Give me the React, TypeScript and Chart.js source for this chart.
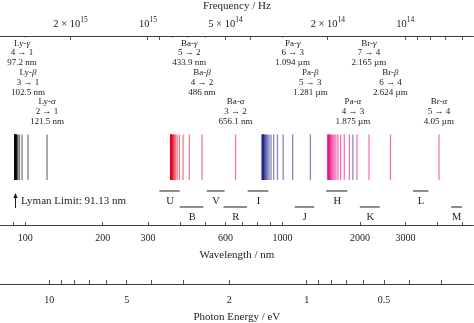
import React, { useEffect, useRef } from 'react';
import { Chart, registerables } from 'chart.js';

Chart.register(...registerables);

// ---------------- data ----------------
// hydrogen series line wavelengths (nm)
const LYMAN = [121.50, 102.52, 97.20, 94.92, 93.73, 93.03, 92.57, 92.27, 92.05, 91.89, 91.76, 91.67, 91.59, 91.53, 91.48, 91.44, 91.41, 91.38, 91.35, 91.33, 91.32, 91.30, 91.29, 91.27];
const BALMER = [656.3, 486.1, 434.0, 410.2, 397.0, 388.9, 383.5, 379.8, 377.1, 375.0, 373.4, 372.2, 371.2, 370.4, 369.7, 369.2, 368.7, 368.3, 367.9, 367.6, 367.4, 367.1, 366.9];
const PASCHEN = [1875.2, 1281.9, 1093.9, 1005.0, 954.6, 922.9, 901.5, 886.3, 875.1, 866.5, 859.9, 854.6, 850.3, 846.8, 843.8, 841.4, 839.3, 837.5, 835.9, 834.6, 833.4, 832.4];
const BRACKETT = [4051, 2625, 2165.5, 1944.5, 1817.4, 1736.2, 1680.6, 1640.7, 1610.9, 1588.0, 1570.1, 1555.6, 1543.9, 1534.2, 1526.0, 1519.2, 1513.3, 1508.3, 1503.9, 1500.1, 1496.7];
const SERIES_NAMES = ['Lyman', 'Balmer', 'Paschen', 'Brackett'];
const LYMAN_LIMIT = 91.13;

// line annotations
const LABEL_SERIES = ['Ly', 'Ly', 'Ly', 'Ba', 'Ba', 'Ba', 'Pa', 'Pa', 'Pa', 'Br', 'Br', 'Br'];
const LABEL_GREEK = ['γ', 'β', 'α', 'γ', 'β', 'α', 'γ', 'β', 'α', 'γ', 'β', 'α'];
const LABEL_TRANSITION = ['4 → 1', '3 → 1', '2 → 1', '5 → 2', '4 → 2', '3 → 2', '6 → 3', '5 → 3', '4 → 3', '7 → 4', '6 → 4', '5 → 4'];
const LABEL_TEXT = ['97.2 nm', '102.5 nm', '121.5 nm', '433.9 nm', '486 nm', '656.1 nm', '1.094 µm', '1.281 µm', '1.875 µm', '2.165 µm', '2.624 µm', '4.05 µm'];
const LABEL_NM = [97.2, 102.5, 121.5, 433.9, 486, 656.1, 1094, 1281, 1875, 2165, 2624, 4050];
const LABEL_TIER = [0, 1, 2, 0, 1, 2, 0, 1, 2, 0, 1, 2];

// photometric bands (nm)
const BAND_NAMES = ['U', 'B', 'V', 'R', 'I', 'J', 'H', 'K', 'L', 'M'];
const BAND_CENTERS = [365, 445, 551, 658, 806, 1220, 1630, 2190, 3450, 4750];
const BAND_WIDTHS = [66, 94, 88, 138, 149, 213, 307, 390, 472, 460];
const BAND_ROW = [0, 1, 0, 1, 0, 1, 0, 1, 0, 1];

// axes
const WAVE_MIN = 79.75;
const WAVE_MAX = 5528;
const HC_EV_NM = 1239.84;
const C_NM_PER_S = 2.99792458e17;
const WAVE_TICKS = [90, 100, 200, 300, 400, 500, 600, 700, 800, 900, 1000, 2000, 3000, 4000, 5000];
const WAVE_LABELS = [100, 200, 300, 600, 1000, 2000, 3000];
const FREQ_TICKS = [6e13, 7e13, 8e13, 9e13, 1e14, 2e14, 3e14, 4e14, 5e14, 6e14, 7e14, 8e14, 9e14, 1e15, 2e15, 3e15];
const FREQ_LABEL_VALUES = [2e15, 1e15, 5e14, 2e14, 1e14];
const FREQ_LABEL_MANTISSA = ['2 × 10', '10', '5 × 10', '2 × 10', '10'];
const FREQ_LABEL_EXPONENT = ['15', '15', '14', '14', '14'];
const ENERGY_TICKS = [0.3, 0.4, 0.5, 0.6, 0.7, 0.8, 0.9, 1, 2, 3, 4, 5, 6, 7, 8, 9, 10];
const ENERGY_LABELS = [10, 5, 2, 1, 0.5];

// ---------------- style / layout ----------------
const FONT = '"Liberation Serif", "Times New Roman", serif';
const TEXT_COLOR = '#1c1c1c';
const AXIS_COLOR = '#2a2a2a';
const SERIES_COLORS = ['rgba(0,0,0,0.5)', 'rgba(228,0,28,0.52)', 'rgba(28,28,135,0.52)', 'rgba(232,0,128,0.55)'];
const LINE_TOP = 134.5;
const LINE_BOTTOM = 180;
const BAND_ROW_Y = [191, 207];
const WAVE_AXIS_Y = 225;
const LABEL_FIRST_BASELINE = 45.5;
const LABEL_LINE_STEP = 9.8;
const LABEL_TIER_STEP = 29.4;

const near = (a: number, b: number) => Math.abs(a - b) <= Math.abs(b) * 1e-6;

type Part = { t: string; italic?: boolean; size?: number; rise?: number };

function fontStr(size: number, italic?: boolean) {
  return `${italic ? 'italic ' : ''}${size}px ${FONT}`;
}
function measureParts(ctx: CanvasRenderingContext2D, parts: Part[], size: number) {
  let w = 0;
  for (const p of parts) {
    ctx.font = fontStr(p.size || size, p.italic);
    w += ctx.measureText(p.t).width;
  }
  return w;
}
function drawParts(ctx: CanvasRenderingContext2D, parts: Part[], cx: number, y: number, size: number) {
  const total = measureParts(ctx, parts, size);
  let x = cx - total / 2;
  ctx.textAlign = 'left';
  for (const p of parts) {
    ctx.font = fontStr(p.size || size, p.italic);
    ctx.fillText(p.t, x, y - (p.rise || 0));
    x += ctx.measureText(p.t).width;
  }
}

const overlayPlugin = {
  id: 'spectrumOverlay',
  afterDraw(chart: any) {
    const ctx: CanvasRenderingContext2D = chart.ctx;
    const xs = chart.scales.x;
    const ys = chart.scales.y;
    const xf = chart.scales.xf;
    const xe = chart.scales.xe;
    const py = (v: number) => ys.getPixelForValue(v);
    const cxMid = (chart.chartArea.left + chart.chartArea.right) / 2;
    ctx.save();
    ctx.textBaseline = 'alphabetic';

    // frequency tick labels with superscript exponents
    ctx.fillStyle = TEXT_COLOR;
    FREQ_LABEL_VALUES.forEach((v, i) => {
      drawParts(
        ctx,
        [{ t: FREQ_LABEL_MANTISSA[i] }, { t: FREQ_LABEL_EXPONENT[i], size: 7.5, rise: 4.5 }],
        xf.getPixelForValue(v),
        xf.bottom - 9.5,
        10.5
      );
    });

    // line annotations
    for (let i = 0; i < LABEL_NM.length; i++) {
      const cx = xs.getPixelForValue(LABEL_NM[i]);
      const b0 = py(LABEL_FIRST_BASELINE + LABEL_TIER[i] * LABEL_TIER_STEP);
      const lines: Part[][] = [
        [{ t: LABEL_SERIES[i] + '-' }, { t: LABEL_GREEK[i], italic: true }],
        [{ t: LABEL_TRANSITION[i] }],
        [{ t: LABEL_TEXT[i] }],
      ];
      const w = Math.max(...lines.map((l) => measureParts(ctx, l, 9))) + 2;
      ctx.fillStyle = '#ffffff';
      ctx.fillRect(cx - w / 2, b0 - 8, w, 2 * LABEL_LINE_STEP + 10.5);
      ctx.fillStyle = TEXT_COLOR;
      lines.forEach((l, k) => drawParts(ctx, l, cx, b0 + k * LABEL_LINE_STEP, 9));
    }

    // band letters
    ctx.fillStyle = TEXT_COLOR;
    ctx.font = fontStr(10.5);
    ctx.textAlign = 'center';
    BAND_NAMES.forEach((n, i) => {
      ctx.fillText(n, xs.getPixelForValue(BAND_CENTERS[i]), py(BAND_ROW_Y[BAND_ROW[i]] + 12.5));
    });

    // Lyman limit arrow
    const lx = Math.round(xs.getPixelForValue(LYMAN_LIMIT)) + 0.5;
    ctx.strokeStyle = TEXT_COLOR;
    ctx.lineWidth = 1;
    ctx.beginPath();
    ctx.moveTo(lx, py(208));
    ctx.lineTo(lx, py(196));
    ctx.stroke();
    ctx.beginPath();
    ctx.moveTo(lx, py(193));
    ctx.lineTo(lx - 2.2, py(198));
    ctx.lineTo(lx + 2.2, py(198));
    ctx.closePath();
    ctx.fill();
    ctx.font = fontStr(11);
    ctx.textAlign = 'left';
    ctx.fillText('Lyman Limit: 91.13 nm', lx + 5.5, py(203.5));

    // axis titles
    ctx.textAlign = 'center';
    ctx.textBaseline = 'middle';
    ctx.font = fontStr(11);
    ctx.fillText('Frequency / Hz', cxMid, xf.bottom - 30);
    ctx.fillText('Wavelength / nm', cxMid, py(WAVE_AXIS_Y) + 30.5);
    ctx.fillText('Photon Energy / eV', cxMid, xe.top + 33.5);
    ctx.restore();
  },
};

function logAxis(ticksList: number[], labelFn: (v: number) => string, padding: number, extra: any) {
  return {
    type: 'logarithmic',
    axis: 'x',
    offset: false,
    bounds: 'data',
    grid: {
      display: true,
      drawOnChartArea: false,
      drawTicks: true,
      tickLength: -4,
      tickColor: AXIS_COLOR,
      tickWidth: 0.8,
      color: AXIS_COLOR,
      lineWidth: 0.8,
      offset: false,
    },
    border: { display: true, color: AXIS_COLOR, width: 0.9 },
    ticks: {
      autoSkip: false,
      maxRotation: 0,
      minRotation: 0,
      color: TEXT_COLOR,
      padding,
      font: { family: FONT, size: 10 },
      callback: (v: any) => labelFn(Number(v)),
    },
    afterBuildTicks: (scale: any) => {
      scale.ticks = ticksList.map((value) => ({ value }));
    },
    ...extra,
  };
}

export default function App() {
  const ref = useRef<HTMLCanvasElement | null>(null);

  useEffect(() => {
    if (!ref.current) return;
    const seriesData = [LYMAN, BALMER, PASCHEN, BRACKETT];
    const datasets: any[] = seriesData.map((arr, i) => ({
      type: 'bar',
      label: SERIES_NAMES[i],
      data: arr.map((v) => ({ x: v, y: [LINE_TOP, LINE_BOTTOM] })),
      backgroundColor: SERIES_COLORS[i],
      borderWidth: 0,
      barThickness: 1.3,
      grouped: false,
      inflateAmount: 0,
      xAxisID: 'x',
      yAxisID: 'y',
    }));
    const bandPts: any[] = [];
    BAND_CENTERS.forEach((c, i) => {
      const y = BAND_ROW_Y[BAND_ROW[i]];
      bandPts.push({ x: c - BAND_WIDTHS[i] / 2, y });
      bandPts.push({ x: c + BAND_WIDTHS[i] / 2, y });
      bandPts.push({ x: c + BAND_WIDTHS[i] / 2, y: null });
    });
    datasets.push({
      type: 'line',
      label: 'Bands',
      data: bandPts,
      borderColor: TEXT_COLOR,
      borderWidth: 1.1,
      pointRadius: 0,
      spanGaps: false,
      xAxisID: 'x',
      yAxisID: 'y',
    });

    const chart = new Chart(ref.current, {
      type: 'bar',
      data: { datasets },
      options: {
        responsive: false,
        animation: false,
        events: [],
        layout: { padding: { top: 7, bottom: 3, left: 0, right: 0 } },
        plugins: { legend: { display: false }, tooltip: { enabled: false } },
        scales: {
          x: logAxis(
            WAVE_TICKS,
            (v) => (WAVE_LABELS.some((l) => near(v, l)) ? String(v) : ''),
            11.5,
            { position: { y: WAVE_AXIS_Y }, min: WAVE_MIN, max: WAVE_MAX }
          ),
          // frequency labels (with superscripts) are drawn by the overlay plugin
          xf: logAxis(FREQ_TICKS, () => '', 10.5, {
            position: 'top',
            reverse: true,
            min: C_NM_PER_S / WAVE_MAX,
            max: C_NM_PER_S / WAVE_MIN,
          }),
          xe: logAxis(
            ENERGY_TICKS,
            (v) => {
              const k = ENERGY_LABELS.findIndex((l) => near(v, l));
              return k >= 0 ? String(ENERGY_LABELS[k]) : '';
            },
            14,
            { position: 'bottom', reverse: true, min: HC_EV_NM / WAVE_MAX, max: HC_EV_NM / WAVE_MIN }
          ),
          y: {
            type: 'linear',
            display: false,
            min: 36,
            max: 284,
            reverse: true,
            beginAtZero: false,
          },
        },
      } as any,
      plugins: [overlayPlugin],
    });
    return () => chart.destroy();
  }, []);

  return (
    <div style={{ position: 'absolute', left: 0, top: 0, width: 474, height: 323, background: '#fff' }}>
      <canvas ref={ref} width={474} height={323} style={{ display: 'block' }} />
    </div>
  );
}
